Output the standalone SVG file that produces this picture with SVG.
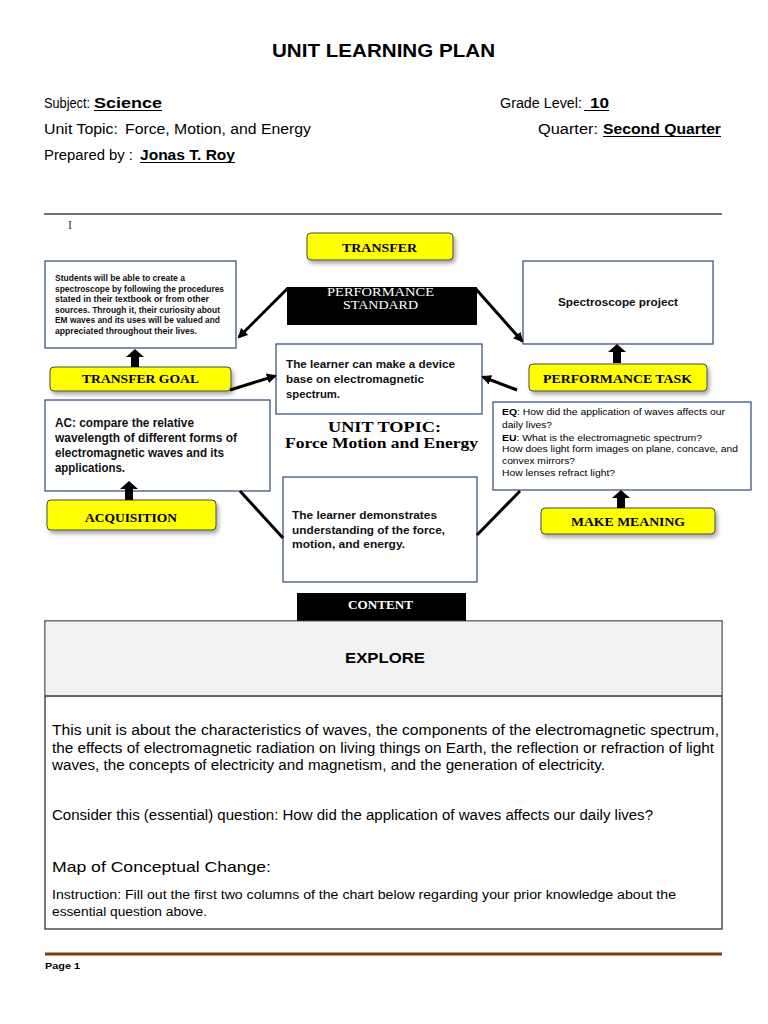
<svg xmlns="http://www.w3.org/2000/svg" width="768" height="1024" viewBox="0 0 768 1024">
<style>
.sans{font-family:"Liberation Sans",Arial,sans-serif;fill:#000}
.cal{font-family:"Liberation Sans","Open Sans",sans-serif;font-weight:bold;fill:#111}
.serif{font-family:"Liberation Serif","Times New Roman",serif;font-weight:bold;fill:#000}
.wserif{font-family:"Liberation Serif","Times New Roman",serif;fill:#fff}
.box{fill:#fff;stroke:#41557f;stroke-width:1.3}
.ybox{fill:#ffff00;stroke:#4a4a4a;stroke-width:1}
.conn{stroke:#000;stroke-width:3;fill:none}
.ul{stroke:#000;stroke-width:1}
</style>
<defs>
<filter id="sh" x="-10%" y="-20%" width="130%" height="160%">
<feDropShadow dx="2" dy="3" stdDeviation="2" flood-color="#000" flood-opacity="0.35"/>
</filter>
<marker id="ah" markerWidth="10" markerHeight="10" refX="8" refY="5" orient="auto" markerUnits="userSpaceOnUse">
<path d="M0,0 L10,5 L0,10 z" fill="#000"/>
</marker>
</defs>
<rect width="768" height="1024" fill="#fff"/>

<g id="header">
<text class="sans" x="272" y="57" font-size="19" font-weight="bold" textLength="223" lengthAdjust="spacingAndGlyphs">UNIT LEARNING PLAN</text>
<text class="sans" x="44" y="108" font-size="14" textLength="46" lengthAdjust="spacingAndGlyphs">Subject:</text>
<text class="sans" x="94" y="108" font-size="14" font-weight="bold" textLength="68" lengthAdjust="spacingAndGlyphs">Science</text>
<line class="ul" x1="94" y1="110.5" x2="162" y2="110.5"/>
<text class="sans" x="500" y="108" font-size="14" textLength="82" lengthAdjust="spacingAndGlyphs">Grade Level:</text>
<text class="sans" x="590" y="108" font-size="14" font-weight="bold" textLength="19" lengthAdjust="spacingAndGlyphs">10</text>
<line class="ul" x1="584" y1="110.5" x2="609" y2="110.5"/>
<text class="sans" x="44" y="134" font-size="14" textLength="74" lengthAdjust="spacingAndGlyphs">Unit Topic:</text>
<text class="sans" x="125" y="134" font-size="14" textLength="186" lengthAdjust="spacingAndGlyphs">Force, Motion, and Energy</text>
<text class="sans" x="538" y="134" font-size="14" textLength="60" lengthAdjust="spacingAndGlyphs">Quarter:</text>
<text class="sans" x="603" y="134" font-size="14" font-weight="bold" textLength="118" lengthAdjust="spacingAndGlyphs">Second Quarter</text>
<line class="ul" x1="603" y1="136.5" x2="721" y2="136.5"/>
<text class="sans" x="44" y="160" font-size="14" textLength="89" lengthAdjust="spacingAndGlyphs">Prepared by :</text>
<text class="sans" x="140" y="160" font-size="14" font-weight="bold" textLength="95" lengthAdjust="spacingAndGlyphs">Jonas T. Roy</text>
<line class="ul" x1="140" y1="162.5" x2="235" y2="162.5"/>
<line x1="44" y1="214" x2="722" y2="214" stroke="#444" stroke-width="1.3"/>
<text x="68" y="229" font-family="Liberation Serif,serif" font-size="12" fill="#333">I</text>
</g>

<g id="transfer-goal-text">
<rect class="box" x="45" y="261" width="191" height="87"/>
<text class="cal" font-size="8.5">
<tspan x="55" y="281" textLength="130" lengthAdjust="spacingAndGlyphs">Students will be able to create a</tspan>
<tspan x="55" y="292" textLength="169" lengthAdjust="spacingAndGlyphs">spectroscope by following the procedures</tspan>
<tspan x="55" y="302" textLength="154" lengthAdjust="spacingAndGlyphs">stated in their textbook or from other</tspan>
<tspan x="55" y="313" textLength="165" lengthAdjust="spacingAndGlyphs">sources. Through it, their curiosity about</tspan>
<tspan x="55" y="323" textLength="165" lengthAdjust="spacingAndGlyphs">EM waves and its uses will be valued and</tspan>
<tspan x="55" y="334" textLength="142" lengthAdjust="spacingAndGlyphs">appreciated throughout their lives.</tspan>
</text>
</g>

<g id="transfer">
<rect class="ybox" x="307" y="233" width="146" height="27" rx="4" filter="url(#sh)"/>
<text class="serif" x="342" y="252" font-size="12" textLength="75" lengthAdjust="spacingAndGlyphs">TRANSFER</text>
</g>

<g id="performance-standard">
<rect x="287" y="287" width="190" height="38" fill="#000"/>
<text class="wserif" x="327" y="296" font-size="12" textLength="107" lengthAdjust="spacingAndGlyphs">PERFORMANCE</text>
<text class="wserif" x="343" y="309" font-size="12" textLength="75" lengthAdjust="spacingAndGlyphs">STANDARD</text>
</g>

<g id="spectroscope">
<rect class="box" x="523" y="261" width="190" height="83"/>
<text class="cal" x="558" y="306" font-size="11" textLength="120" lengthAdjust="spacingAndGlyphs">Spectroscope project</text>
</g>

<g id="performance-task">
<rect class="ybox" x="529" y="364" width="178" height="27" rx="4" filter="url(#sh)"/>
<text class="serif" x="543" y="383" font-size="12.5" textLength="149" lengthAdjust="spacingAndGlyphs">PERFORMANCE TASK</text>
</g>

<g id="transfer-goal">
<rect class="ybox" x="50" y="367" width="181" height="24" rx="4" filter="url(#sh)"/>
<text class="serif" x="82" y="383" font-size="12.5" textLength="117" lengthAdjust="spacingAndGlyphs">TRANSFER GOAL</text>
</g>

<g id="performance-standard-text">
<rect class="box" x="276" y="344" width="206" height="70"/>
<text class="cal" font-size="11.5">
<tspan x="286" y="368" textLength="169" lengthAdjust="spacingAndGlyphs">The learner can make a device</tspan>
<tspan x="286" y="383" textLength="138" lengthAdjust="spacingAndGlyphs">base on electromagnetic</tspan>
<tspan x="286" y="398" textLength="54" lengthAdjust="spacingAndGlyphs">spectrum.</tspan>
</text>
</g>

<g id="unit-topic">
<text class="serif" x="328" y="432" font-size="15" textLength="113" lengthAdjust="spacingAndGlyphs">UNIT TOPIC:</text>
<text class="serif" x="285" y="448" font-size="15" textLength="193" lengthAdjust="spacingAndGlyphs">Force Motion and Energy</text>
</g>

<g id="acquisition-text">
<rect class="box" x="45" y="400" width="225" height="91"/>
<text class="cal" font-size="12">
<tspan x="55" y="427" textLength="139" lengthAdjust="spacingAndGlyphs">AC: compare the relative</tspan>
<tspan x="55" y="442" textLength="182" lengthAdjust="spacingAndGlyphs">wavelength of different forms of</tspan>
<tspan x="55" y="457" textLength="169" lengthAdjust="spacingAndGlyphs">electromagnetic waves and its</tspan>
<tspan x="55" y="472" textLength="70" lengthAdjust="spacingAndGlyphs">applications.</tspan>
</text>
</g>

<g id="make-meaning-text">
<rect class="box" x="493" y="402" width="258" height="88"/>
<text class="sans" font-size="9.5" fill="#111">
<tspan x="502" y="415" textLength="223" lengthAdjust="spacingAndGlyphs"><tspan font-weight="bold">EQ</tspan>: How did the application of waves affects our</tspan>
<tspan x="502" y="428" textLength="50" lengthAdjust="spacingAndGlyphs">daily lives?</tspan>
<tspan x="502" y="441" textLength="200" lengthAdjust="spacingAndGlyphs"><tspan font-weight="bold">EU</tspan>: What is the electromagnetic spectrum?</tspan>
<tspan x="502" y="452" textLength="236" lengthAdjust="spacingAndGlyphs">How does light form images on plane, concave, and</tspan>
<tspan x="502" y="464" textLength="73" lengthAdjust="spacingAndGlyphs">convex mirrors?</tspan>
<tspan x="502" y="476" textLength="113" lengthAdjust="spacingAndGlyphs">How lenses refract light?</tspan>
</text>
</g>

<g id="acquisition">
<rect class="ybox" x="47" y="500" width="169" height="30" rx="4" filter="url(#sh)"/>
<text class="serif" x="85" y="522" font-size="12.5" textLength="92" lengthAdjust="spacingAndGlyphs">ACQUISITION</text>
</g>

<g id="make-meaning">
<rect class="ybox" x="541" y="508" width="174" height="26" rx="4" filter="url(#sh)"/>
<text class="serif" x="571" y="526" font-size="12.5" textLength="114" lengthAdjust="spacingAndGlyphs">MAKE MEANING</text>
</g>

<g id="content-text">
<rect class="box" x="283" y="477" width="194" height="105"/>
<text class="cal" font-size="11.5">
<tspan x="292" y="519" textLength="145" lengthAdjust="spacingAndGlyphs">The learner demonstrates</tspan>
<tspan x="292" y="534" textLength="153" lengthAdjust="spacingAndGlyphs">understanding of the force,</tspan>
<tspan x="292" y="548" textLength="113" lengthAdjust="spacingAndGlyphs">motion, and energy.</tspan>
</text>
</g>

<g id="content">
<rect x="297" y="593" width="169" height="28" fill="#000"/>
<text class="wserif" x="348" y="609" font-size="12.5" font-weight="bold" textLength="65" lengthAdjust="spacingAndGlyphs">CONTENT</text>
</g>

<g id="explore-table">
<rect x="45" y="621" width="677" height="308" fill="#fff" stroke="#333" stroke-width="1.3"/>
<rect x="45.6" y="621.6" width="675.8" height="74.4" fill="#f2f2f2"/>
<line x1="45" y1="696" x2="722" y2="696" stroke="#333" stroke-width="1.3"/>
<text class="sans" x="345" y="663" font-size="15" font-weight="bold" textLength="80" lengthAdjust="spacingAndGlyphs">EXPLORE</text>
<text class="sans" font-size="14" fill="#111">
<tspan x="52" y="735" textLength="667" lengthAdjust="spacingAndGlyphs">This unit is about the characteristics of waves, the components of the electromagnetic spectrum,</tspan>
<tspan x="52" y="753" textLength="662" lengthAdjust="spacingAndGlyphs">the effects of electromagnetic radiation on living things on Earth, the reflection or refraction of light</tspan>
<tspan x="52" y="770" textLength="553" lengthAdjust="spacingAndGlyphs">waves, the concepts of electricity and magnetism, and the generation of electricity.</tspan>
<tspan x="52" y="820" textLength="601" lengthAdjust="spacingAndGlyphs">Consider this (essential) question: How did the application of waves affects our daily lives?</tspan>
</text>
<text class="sans" x="52" y="872" font-size="15" textLength="219" lengthAdjust="spacingAndGlyphs">Map of Conceptual Change:</text>
<text class="sans" font-size="12" fill="#111">
<tspan x="52" y="899" textLength="624" lengthAdjust="spacingAndGlyphs">Instruction: Fill out the first two columns of the chart below regarding your prior knowledge about the</tspan>
<tspan x="52" y="916" textLength="155" lengthAdjust="spacingAndGlyphs">essential question above.</tspan>
</text>
</g>

<g id="footer">
<line x1="45" y1="954" x2="722" y2="954" stroke="#843c0c" stroke-width="3"/>
<text class="sans" x="45" y="969" font-size="9.5" font-weight="bold" textLength="35" lengthAdjust="spacingAndGlyphs">Page 1</text>
</g>

<g id="connectors">
<line class="conn" x1="288" y1="288" x2="239" y2="337" marker-end="url(#ah)"/>
<line class="conn" x1="475" y1="288" x2="522" y2="341" marker-end="url(#ah)"/>
<line class="conn" x1="230" y1="390" x2="275" y2="376" marker-end="url(#ah)"/>
<line class="conn" x1="517" y1="390" x2="483" y2="377" marker-end="url(#ah)"/>
<line class="conn" x1="240" y1="491" x2="283" y2="538"/>
<line class="conn" x1="520" y1="491" x2="477" y2="535"/>
<polygon points="135,349 144,357 139,357 139,367 131,367 131,357 126,357" fill="#000"/>
<polygon points="617,344 626,352 621,352 621,363 613,363 613,352 608,352" fill="#000"/>
<polygon points="129,481 138,489 133,489 133,500 125,500 125,489 120,489" fill="#000"/>
<polygon points="621,490 630,498 625,498 625,508 617,508 617,498 612,498" fill="#000"/>
</g>
</svg>
